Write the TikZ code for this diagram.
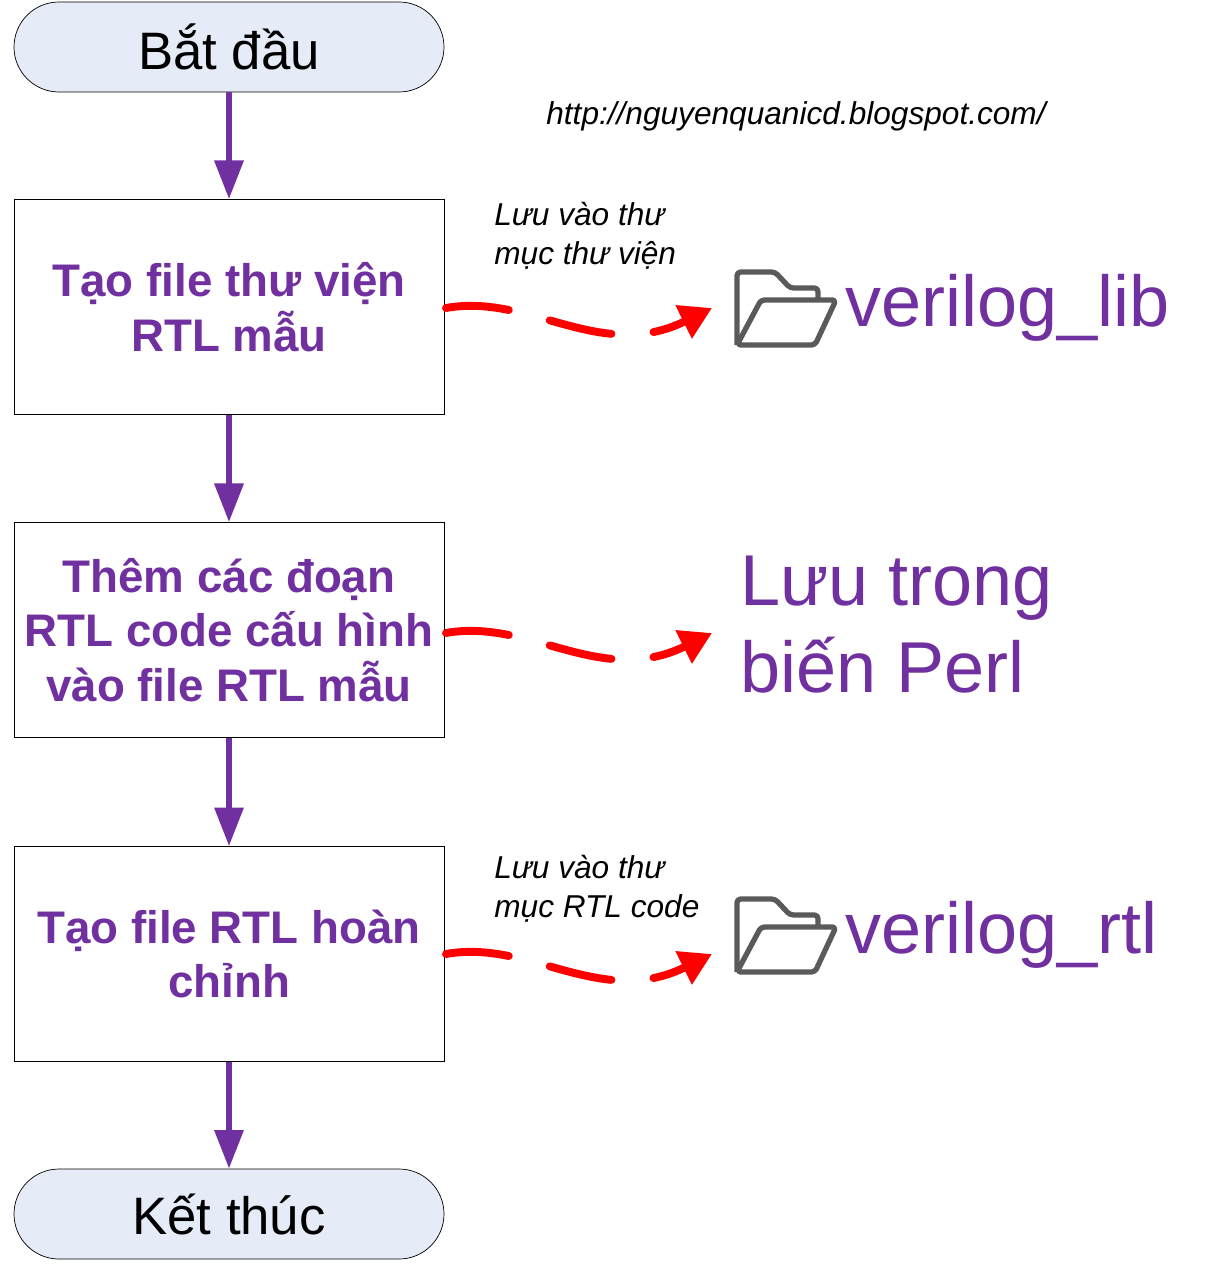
\documentclass[tikz,border=0pt]{standalone}
\usepackage{fontspec}
\setmainfont{Liberation Sans}
\usetikzlibrary{arrows.meta}
\definecolor{pur}{HTML}{7030A0}
\definecolor{term}{HTML}{E6ECF7}
\definecolor{fold}{HTML}{5A5A5A}
\begin{document}
\begin{tikzpicture}[x=0.02cm,y=-0.02cm,
 termbox/.style={draw=black,fill=term,rounded corners=0.9cm,minimum width=430*0.02cm,minimum height=90*0.02cm,font=\fontsize{30}{33}\selectfont,inner sep=0},
 procbox/.style={draw=black,fill=white,minimum width=430*0.02cm,minimum height=215*0.02cm,align=center,text=pur,font=\bfseries\fontsize{26}{31}\selectfont,inner sep=0},
 flow/.style={draw=pur,line width=3.5pt,-{Triangle[length=22pt,width=16pt]}},
 redline/.style={draw=red,line width=4.5pt,line cap=round,dash pattern=on 36pt off 24pt,-{Triangle[length=18pt,width=20pt]}},
 small/.style={font=\itshape\fontsize{18}{22}\selectfont,align=left,anchor=north west,inner sep=0},
 big/.style={text=pur,anchor=west,inner sep=0},
 folder/.style={draw=fold,line width=3pt,line join=round,rounded corners=2pt}]
\useasboundingbox (0,0) rectangle (1206,1270);
\node[termbox] (s) at (229,47) {Bắt đầu};
\node[procbox] (b1) at (229,307) {Tạo file thư viện\\RTL mẫu};
\node[procbox] (b2) at (229,630) {Thêm các đoạn\\RTL code cấu hình\\vào file RTL mẫu};
\node[procbox] (b3) at (229,954) {Tạo file RTL hoàn\\chỉnh};
\node[termbox] (e) at (229,1214) {Kết thúc};
\draw[flow] (s) -- (b1);
\draw[flow] (b1) -- (b2);
\draw[flow] (b2) -- (b3);
\draw[flow] (b3) -- (e);
\node[font=\itshape\fontsize{18}{20}\selectfont,inner sep=0] (url) at (796,116) {http://nguyenquanicd.blogspot.com/};
\node[small] (l1) at (494,202) {Lưu vào thư\\mục thư viện};
\node[small] (l3) at (494,855) {Lưu vào thư\\mục RTL code};
\foreach \y/\n in {308/a,633/b,954/c}{
 \coordinate (p\n) at (446,\y);
 \coordinate (q\n) at (712,\y);
 \draw[redline] (p\n) .. controls (530,\y-15) and (600,\y+55) .. (q\n);
}
\foreach \y/\n in {308/a,935/c}{
 \begin{scope}[shift={(0,\y-308)}]
 \draw[folder] (818,300) -- (818,288) -- (790,288) -- (775,272) -- (737,272) -- (737,345);
 \draw[folder] (737,345) -- (761,300) -- (836,300) -- (815,345) -- cycle;
 \end{scope}
}
\node[big,font=\fontsize{41}{44}\selectfont] (v1) at (845,308) {verilog\_lib};
\node[big,font=\fontsize{41}{44}\selectfont] (v3) at (845,935) {verilog\_rtl};
\node[big,font=\fontsize{41}{49}\selectfont,align=left,anchor=north west] (lp) at (740,556) {Lưu trong\\biến Perl};
\end{tikzpicture}
\end{document}
